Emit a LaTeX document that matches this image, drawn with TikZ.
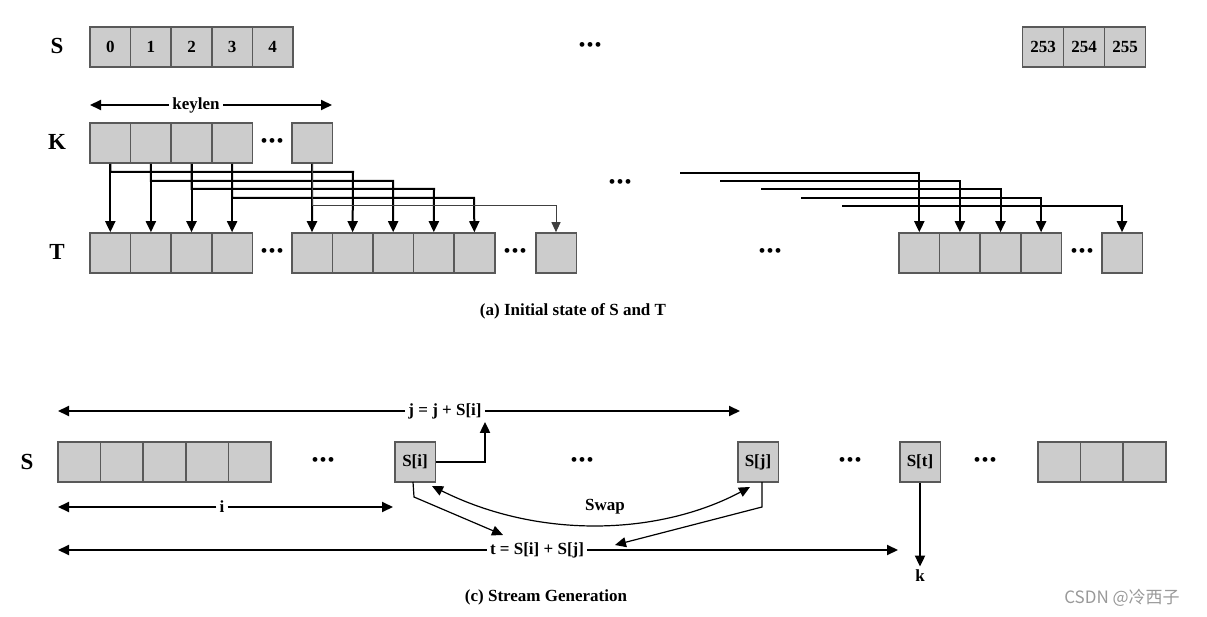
\documentclass[tikz,border=0pt]{standalone}
\usepackage{fontspec}
\setmainfont{Liberation Serif}
\newfontfamily\cjk{Noto Sans CJK SC}
\usetikzlibrary{arrows.meta}
\begin{document}
\begin{tikzpicture}[x=1pt,y=-1pt,
 cell/.style={draw=black!65,fill=black!20,line width=1.6pt,minimum width=40.6pt,minimum height=40pt,inner sep=0pt,font=\bfseries\fontsize{17}{17}\selectfont},
 lbl/.style={font=\bfseries\fontsize{23}{23}\selectfont},
 dots/.style={font=\fontsize{20}{20}\selectfont,inner sep=0pt},
 ar/.style={-{Triangle[length=11pt,width=10pt]},line width=2pt},
 dar/.style={{Triangle[length=11pt,width=10pt]}-{Triangle[length=11pt,width=10pt]},line width=2pt},
 txt/.style={font=\bfseries\fontsize{17}{17}\selectfont,fill=white,inner sep=3pt}]
\def\dd{\textbullet\hspace{1pt}\textbullet\hspace{1pt}\textbullet}
\useasboundingbox (0,0) rectangle (1207,617);
% --- (a) ---
\node[lbl] (Sa) at (57,46) {S};
\foreach \i in {0,...,4}{\node[cell] (s\i) at (110.3+40.6*\i,47) {\i};}
\node[dots] (sd) at (590,47) {\dd};
\foreach \v [count=\c] in {253,254,255}{\node[cell,minimum width=41pt] (s\v) at (1022.5+41*\c-20.5,47) {\v};}
\node[lbl] (Ka) at (57,142) {K};
\foreach \i in {1,...,4}{\node[cell] (k\i) at (69.7+40.6*\i,143) {};}
\node[dots] (kd) at (272,143) {\dd};
\node[cell] (k5) at (312,143) {};
\coordinate (kl1) at (90,105); \coordinate (kl2) at (332,105);
\draw[dar] (kl1) -- (kl2) node[midway,txt,xshift=-15pt] {keylen};
\node[lbl] (Ta) at (57,252) {T};
\foreach \i in {1,...,4}{\node[cell] (t\i) at (69.7+40.6*\i,253) {};}
\node[dots] (td1) at (272,253) {\dd};
\foreach \i in {5,...,9}{\node[cell] (t\i) at (312+40.6*\i-203,253) {};}
\node[dots] (td2) at (515,253) {\dd};
\node[cell] (t10) at (556,253) {};
\node[dots] (td3) at (770,253) {\dd};
\foreach \i in {11,...,14}{\node[cell] (t\i) at (919.3+40.6*\i-446.6,253) {};}
\node[dots] (td4) at (1082,253) {\dd};
\node[cell] (t15) at (1122,253) {};
\node[dots] (md) at (620,184) {\dd};
% K to T
\foreach \a in {1,...,4}{\draw[ar] (k\a.south) -- (t\a.north);}
\draw[ar] (k5.south) -- (t5.north);
\draw[ar] (k1.south) |- (353,172) -- (t6.north);
\draw[ar] (k2.south) |- (393,181) -- (t7.north);
\draw[ar] (k3.south) |- (434,189) -- (t8.north);
\draw[ar] (k4.south) |- (474,198) -- (t9.north);
\draw[-{Triangle[length=10pt,width=9pt]},line width=1pt,black!75] (k5.south) |- (556,206) -- (t10.north);
\coordinate (r1) at (680,173); \coordinate (r2) at (720,181);
\coordinate (r3) at (761,189); \coordinate (r4) at (801,198); \coordinate (r5) at (842,206);
\draw[ar] (r1) -| (t11.north);
\draw[ar] (r2) -| (t12.north);
\draw[ar] (r3) -| (t13.north);
\draw[ar] (r4) -| (t14.north);
\draw[ar] (r5) -| (t15.north);
\node[font=\bfseries\fontsize{17}{17}\selectfont] (capa) at (573,311) {(a) Initial state of S and T};
% --- (c) ---
\node[lbl] (Sc) at (27,462) {S};
\foreach \i in {1,...,5}{\node[cell,minimum width=42.6pt] (b\i) at (36.7+42.6*\i,462) {};}
\node[dots] (bd1) at (323,462) {\dd};
\node[cell] (si) at (415,462) {S[i]};
\node[dots] (bd2) at (582,462) {\dd};
\node[cell] (sj) at (758,462) {S[j]};
\node[dots] (bd3) at (850,462) {\dd};
\node[cell] (st) at (920,462) {S[t]};
\node[dots] (bd4) at (985,462) {\dd};
\foreach \i in {1,...,3}{\node[cell,minimum width=42.6pt] (e\i) at (1016.7+42.6*\i,462) {};}
\coordinate (j1) at (58,411); \coordinate (j2) at (740,411);
\node[txt] (jt) at (445,411) {j = j + S[i]};
\draw[ar] (jt.west) -- (j1); \draw[ar] (jt.east) -- (j2);
\coordinate (i1) at (58,507); \coordinate (i2) at (393,507);
\node[txt] (it) at (222,507) {i};
\draw[ar] (it.west) -- (i1); \draw[ar] (it.east) -- (i2);
\coordinate (tt1) at (58,550); \coordinate (tt2) at (898,550);
\node[txt] (tt) at (537,550) {t = S[i] + S[j]};
\draw[ar] (tt.west) -- (tt1); \draw[ar] (tt.east) -- (tt2);
\draw[ar] (si.east) -| (jt.south -| 485,0);
\draw[dar,line width=1.2pt] (432,486) .. controls (540,540) and (660,535) .. (750,487);
\node[font=\bfseries\fontsize{17}{17}\selectfont] (sw) at (605,507) {Swap};
\draw[ar,line width=1.2pt] (413,482) -- (414,497) -- (503,535);
\draw[ar,line width=1.2pt] (762,482) -- (762,507) -- (615,545);
\node[font=\bfseries\fontsize{17}{17}\selectfont] (k) at (920,576) {k};
\draw[ar] (st.south) -- (k.north);
\node[font=\bfseries\fontsize{17}{17}\selectfont] (capc) at (546,597) {(c) Stream Generation};
\node[font=\cjk\fontsize{17}{17}\selectfont,text=black!40] (wm) at (1122,598) {CSDN @冷西子};
\end{tikzpicture}
\end{document}
